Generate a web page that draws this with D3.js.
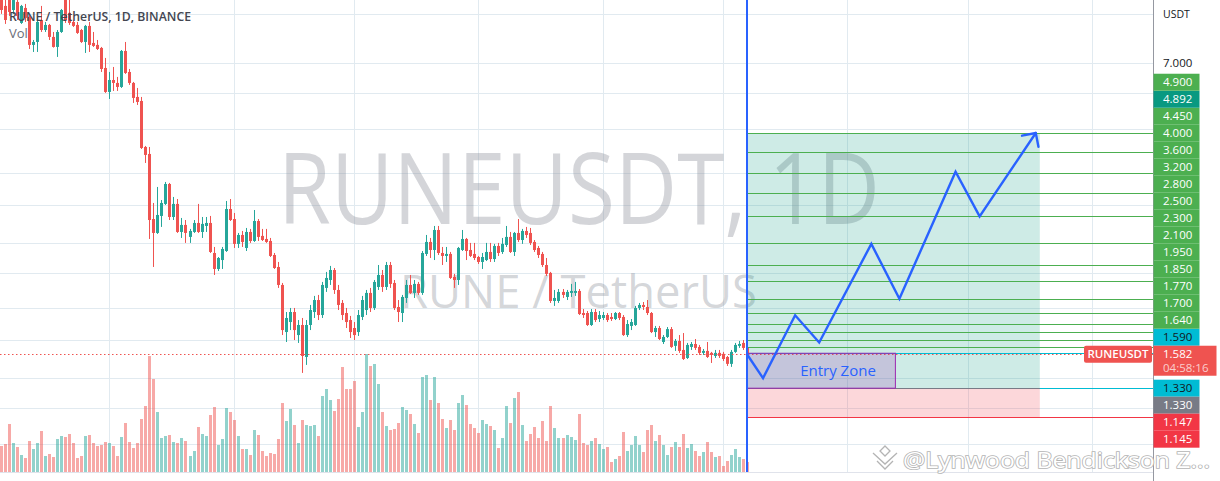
<!DOCTYPE html>
<html><head><meta charset="utf-8">
<script src="https://cdn.jsdelivr.net/npm/d3@7"></script>
<style>html,body{margin:0;padding:0;background:#fff;overflow:hidden}svg{display:block}</style>
</head><body><svg id="c" width="1220" height="481"></svg>
<script>
// ---------- DATA ----------
const startDate = "2022-04-04"; // first daily candle, consecutive days
const opens = [9.668,9.379,9.668,9.187,9.572,8.598,9.283,8.866,7.685,7.802,
8.729,8.294,8.511,8.005,7.606,8.211,9.668,9.050,8.642,8.511,
8.294,7.802,8.468,7.763,7.685,7.567,6.831,6.043,6.424,6.328,
6.200,7.451,6.693,6.328,5.891,5.771,4.562,4.402,3.157,2.940,
3.207,3.410,3.776,3.190,3.410,2.955,3.063,2.881,2.955,3.094,
2.955,3.047,3.094,2.654,2.446,2.560,2.681,3.323,3.157,2.780,
2.910,2.723,2.955,2.822,3.125,2.896,2.851,2.822,2.627,2.471,
2.254,1.772,1.865,1.963,1.745,1.837,1.560,1.837,1.963,2.087,
1.933,2.220,2.312,2.433,2.197,2.056,1.953,1.884,1.809,1.772,
1.914,1.983,2.164,2.004,2.231,2.372,2.231,2.496,2.277,2.014,
1.953,2.109,2.254,2.164,2.266,2.164,2.641,2.808,2.695,2.985,
2.654,2.614,2.641,2.348,2.312,2.695,2.851,2.695,2.641,2.600,
2.535,2.560,2.668,2.573,2.751,2.668,2.765,2.881,2.668,2.940,
2.836,2.970,2.940,2.808,2.723,2.641,2.496,2.397,2.077,2.077,
2.175,2.120,2.164,2.164,2.186,1.953,1.953,1.837,1.963,1.894,
1.904,1.933,1.914,1.894,1.953,1.914,1.745,1.828,1.837,2.004,
2.035,2.014,1.953,1.772,1.809,1.684,1.728,1.799,1.651,1.693,
1.617,1.552,1.642,1.667,1.642,1.593,1.609,1.593,1.568,1.593,
1.585,1.560,1.506,1.601,1.651,1.676,1.634];
const highs = [10.074,9.668,9.921,9.871,9.769,9.428,9.476,8.958,7.881,8.866,
9.379,8.642,8.555,8.211,8.294,9.235,9.921,9.668,8.729,8.642,
8.338,8.511,8.642,8.211,7.881,7.606,7.190,6.693,6.866,6.525,
7.488,7.802,6.795,6.360,6.168,5.891,4.586,4.562,3.427,3.719,
3.479,3.815,3.796,3.534,3.497,3.174,3.141,3.001,3.141,3.410,
3.190,3.190,3.207,2.737,2.600,2.737,3.462,3.497,3.256,2.940,
2.970,3.016,3.001,3.306,3.157,3.001,3.001,2.866,2.654,2.535,
2.277,1.963,2.004,2.004,1.884,1.904,1.884,2.035,2.131,2.142,
2.289,2.409,2.484,2.458,2.254,2.087,2.004,1.924,1.865,1.983,
2.131,2.197,2.220,2.312,2.496,2.433,2.535,2.535,2.312,2.087,
2.142,2.312,2.372,2.312,2.289,2.681,2.910,2.866,3.047,3.047,
2.737,2.737,2.668,2.385,2.737,2.985,2.866,2.794,2.794,2.614,
2.654,2.794,2.794,2.780,2.794,2.866,3.047,2.955,2.955,3.157,
3.001,3.032,3.016,2.836,2.751,2.668,2.587,2.409,2.197,2.208,
2.208,2.197,2.266,2.289,2.208,1.993,1.973,1.993,1.993,1.973,
1.963,1.953,1.953,1.963,1.963,1.933,1.884,1.894,2.025,2.056,
2.066,2.087,1.963,1.828,1.828,1.745,1.818,1.818,1.710,1.745,
1.763,1.676,1.684,1.710,1.659,1.625,1.684,1.601,1.617,1.617,
1.601,1.568,1.617,1.676,1.693,1.701,1.659];
const lows = [9.004,8.555,8.912,9.004,8.729,8.555,8.642,7.527,7.413,7.413,
8.211,8.211,7.881,7.580,7.227,8.170,8.598,8.511,8.424,8.129,
7.763,7.376,7.413,7.606,7.488,6.693,6.013,5.830,6.074,6.074,
6.168,6.626,6.264,5.713,5.655,4.515,4.204,2.851,2.471,2.925,
3.032,3.392,3.141,3.141,2.940,2.866,2.794,2.794,2.940,2.940,
2.866,2.955,2.654,2.372,2.421,2.446,2.668,3.125,2.723,2.723,
2.737,2.681,2.794,2.808,2.822,2.822,2.794,2.600,2.446,2.220,
1.745,1.684,1.790,1.701,1.676,1.438,1.498,1.790,1.904,1.884,
1.904,2.175,2.254,2.153,1.983,1.884,1.809,1.719,1.701,1.737,
1.884,1.933,1.963,1.983,2.197,2.175,2.197,2.220,1.983,1.865,
1.865,2.056,2.153,2.109,2.142,2.142,2.614,2.587,2.560,2.627,
2.496,2.535,2.324,2.220,2.254,2.681,2.560,2.600,2.560,2.509,
2.446,2.547,2.535,2.535,2.614,2.641,2.737,2.654,2.614,2.808,
2.780,2.866,2.765,2.668,2.587,2.471,2.360,2.056,2.025,2.056,
2.109,2.087,2.120,2.131,1.933,1.904,1.828,1.828,1.865,1.865,
1.884,1.865,1.875,1.884,1.884,1.737,1.728,1.790,1.828,1.983,
1.983,1.933,1.763,1.728,1.701,1.667,1.719,1.634,1.609,1.593,
1.536,1.544,1.617,1.617,1.576,1.576,1.552,1.513,1.552,1.552,
1.528,1.490,1.483,1.593,1.634,1.617,1.568];
const closes = [9.187,8.729,9.095,9.668,8.912,9.379,8.821,7.685,7.802,8.642,
8.294,8.511,8.005,7.606,8.211,9.187,8.729,8.598,8.468,8.170,
7.802,8.468,7.685,7.645,7.527,6.795,6.043,6.424,6.328,6.200,
7.451,6.659,6.328,5.861,5.742,4.539,4.380,3.141,2.940,3.223,
3.427,3.776,3.190,3.410,2.955,3.063,2.940,2.970,3.094,2.955,
3.079,3.094,2.668,2.446,2.587,2.709,3.323,3.141,2.780,2.910,
2.808,2.955,2.822,3.125,2.881,2.836,2.808,2.614,2.458,2.254,
1.790,1.904,1.963,1.790,1.837,1.568,1.837,1.983,2.087,1.933,
2.254,2.336,2.433,2.197,2.035,1.933,1.865,1.772,1.745,1.933,
2.087,2.164,2.004,2.289,2.372,2.231,2.496,2.266,2.004,1.963,
2.120,2.254,2.164,2.266,2.164,2.654,2.808,2.695,2.985,2.654,
2.614,2.641,2.336,2.312,2.723,2.851,2.681,2.614,2.587,2.535,
2.600,2.668,2.573,2.751,2.654,2.780,2.881,2.668,2.940,2.836,
2.970,2.910,2.794,2.695,2.627,2.496,2.385,2.077,2.109,2.175,
2.142,2.175,2.186,2.186,1.943,1.933,1.837,1.963,1.884,1.933,
1.933,1.884,1.894,1.953,1.904,1.745,1.846,1.865,2.004,2.035,
2.014,1.953,1.772,1.809,1.710,1.728,1.799,1.642,1.693,1.609,
1.544,1.659,1.667,1.634,1.593,1.609,1.560,1.576,1.593,1.568,
1.544,1.506,1.601,1.659,1.667,1.634,1.582];
const volumes = [2.6,2.8,4.8,2.9,2.5,1.7,1.4,3.1,2.3,2.9,
4.1,1.6,1.8,1.5,3.3,3.6,3.5,3.8,2.9,1.4,
1.6,3.6,3.7,2.9,2.6,2.7,3.0,2.9,2.6,1.6,
3.5,4.9,3.0,2.4,2.9,5.3,6.6,11.6,9.3,6.0,
3.4,3.6,3.7,3.0,2.9,3.4,3.1,1.6,2.1,4.5,
3.8,3.6,5.7,6.5,2.7,3.3,6.4,6.0,5.2,3.6,
2.3,2.3,1.7,4.2,3.7,2.1,1.6,1.9,1.8,3.3,
6.9,5.1,6.3,4.7,2.9,5.2,4.7,4.6,4.7,3.6,
7.6,8.3,7.2,6.1,7.3,10.5,8.3,8.3,9.1,4.5,
6.0,11.8,10.6,10.8,8.8,6.0,4.6,4.2,4.3,4.9,
6.5,6.2,5.8,4.8,3.9,9.5,9.7,7.2,9.5,6.9,
5.3,4.4,5.2,4.2,6.9,7.7,6.7,4.8,4.4,3.9,
5.2,4.8,4.6,4.2,2.4,3.4,6.6,4.9,7.4,8.0,
4.7,3.1,3.8,4.5,3.4,5.1,3.1,6.6,4.4,3.4,
3.4,3.7,3.5,3.2,5.8,2.9,2.7,3.1,3.4,2.8,
2.3,2.5,1.0,1.3,1.6,4.0,2.1,2.7,3.6,2.7,
2.0,4.2,4.7,3.1,3.7,2.7,1.7,2.5,3.0,2.5,
3.8,2.4,2.8,2.1,1.6,2.0,3.0,2.0,1.5,1.6,
0.6,1.1,1.7,2.3,1.5,1.3,1.0];

const priceTicks = [1.0,1.2,1.4,1.7,2.0,2.4,2.8,3.4,4.0,5.0,6.0,7.0,9.0];
const targetLevels = [1.64,1.70,1.77,1.85,1.95,2.1,2.3,2.5,2.8,3.2,3.6,4.0,4.45,4.9];
const entryZoneTop = 1.59;
const entryLevel = 1.33;
const stopLevel = 1.147;
const posEntry = 1.33, posTarget = 4.892, posStop = 1.145;
const posStart = "2022-10-07", posEnd = "2022-12-19", zoneEnd = "2022-11-13";
const countdown = "04:58:16";
const pathDates = ["2022-10-07","2022-10-11","2022-10-19","2022-10-25","2022-11-07","2022-11-14","2022-11-28","2022-12-04","2022-12-18"];
const pathPrices = [1.582,1.40,1.93,1.68,2.78,2.10,4.02,3.20,4.90];
const symbolTitle = "RUNE / TetherUS, 1D, BINANCE";
const watermark1 = "RUNEUSDT, 1D", watermark2 = "RUNE / TetherUS";
const author = "@Lynwood Bendickson Z...";

// ---------- LAYOUT ----------
const W = 1220, H = 481, plotRight = 1153, plotBottom = 472;
const font = "'Open Sans','Noto Sans',sans-serif";
const UP = "#26a69a", DN = "#ef5350";
const svg = d3.select("#c");
const parse = d3.utcParse("%Y-%m-%d");
const t0 = parse(startDate);
const dates = opens.map((_, i) => d3.utcDay.offset(t0, i));
const x = d3.scaleUtc().domain([t0, dates[dates.length - 1]]).range([1, 747]);
const y = d3.scaleLog().domain([1, 9]).range([444, 14]);
const yv = d3.scaleLinear().domain([0, 12]).range([plotBottom, 352]);
const snap = v => Math.round(v) + 0.5;

svg.append("rect").attr("width", W).attr("height", H).attr("fill", "#fff");
svg.append("defs").append("clipPath").attr("id", "plot").append("rect")
  .attr("width", plotRight).attr("height", plotBottom);
const plot = svg.append("g").attr("clip-path", "url(#plot)");

// grid
const grid = plot.append("g").attr("stroke", "#e1eaf0").attr("stroke-width", 1);
priceTicks.forEach(p => grid.append("line").attr("x1", 0).attr("x2", plotRight)
  .attr("y1", snap(y(p))).attr("y2", snap(y(p))));
d3.utcMonth.range(d3.utcMonth.ceil(t0), d3.utcDay.offset(t0, 320)).forEach(m => {
  const xm = x(m);
  if (xm < plotRight) grid.append("line").attr("x1", snap(xm)).attr("x2", snap(xm)).attr("y1", 0).attr("y2", plotBottom);
});

// watermarks
const wmColor = "rgba(135,139,150,0.36)";
plot.append("text").attr("x", 579).attr("y", 224).attr("text-anchor", "middle")
  .attr("font-family", font).attr("font-size", 98).attr("fill", wmColor)
  .attr("textLength", 602).attr("lengthAdjust", "spacingAndGlyphs").text(watermark1);
plot.append("text").attr("x", 578.5).attr("y", 307.7).attr("text-anchor", "middle")
  .attr("font-family", font).attr("font-size", 46).attr("fill", wmColor)
  .attr("textLength", 357).attr("lengthAdjust", "spacingAndGlyphs").text(watermark2);

// volume
plot.append("g").selectAll("rect").data(volumes).join("rect")
  .attr("x", (d, i) => Math.round(x(dates[i])) - 1).attr("width", 3)
  .attr("y", d => yv(d)).attr("height", d => plotBottom - yv(d))
  .attr("fill", (d, i) => closes[i] >= opens[i] ? "rgba(38,166,154,0.5)" : "rgba(239,83,80,0.5)");

// position tool boxes
const xs = x(parse(posStart)), xe = x(parse(posEnd)), xz = x(parse(zoneEnd));
plot.append("rect").attr("x", xs).attr("width", xe - xs).attr("y", y(posTarget)).attr("height", y(posEntry) - y(posTarget))
  .attr("fill", "rgba(8,153,129,0.2)");
plot.append("rect").attr("x", xs).attr("width", xe - xs).attr("y", y(posEntry)).attr("height", y(posStop) - y(posEntry))
  .attr("fill", "rgba(242,54,69,0.2)");

// candles
const cg = plot.append("g");
dates.forEach((d, i) => {
  const xc = Math.round(x(d));
  const col = closes[i] >= opens[i] ? UP : DN;
  cg.append("line").attr("x1", xc + 0.5).attr("x2", xc + 0.5).attr("y1", y(highs[i])).attr("y2", y(lows[i]))
    .attr("stroke", col).attr("stroke-width", 1);
  const top = y(Math.max(opens[i], closes[i])), bot = y(Math.min(opens[i], closes[i]));
  cg.append("rect").attr("x", xc - 1).attr("width", 3).attr("y", top).attr("height", Math.max(1, bot - top)).attr("fill", col);
});

// horizontal levels
const lv = plot.append("g");
targetLevels.forEach(p => lv.append("line").attr("x1", xs).attr("x2", plotRight)
  .attr("y1", snap(y(p))).attr("y2", snap(y(p))).attr("stroke", "#4caf50"));
lv.append("line").attr("x1", xs).attr("x2", plotRight).attr("y1", snap(y(entryZoneTop))).attr("y2", snap(y(entryZoneTop))).attr("stroke", "#00bcd4");
lv.append("line").attr("x1", xs).attr("x2", plotRight).attr("y1", snap(y(entryLevel))).attr("y2", snap(y(entryLevel))).attr("stroke", "#00bcd4");
lv.append("line").attr("x1", xs).attr("x2", xe).attr("y1", snap(y(posEntry))).attr("y2", snap(y(posEntry))).attr("stroke", "#787b86");
lv.append("line").attr("x1", xs).attr("x2", plotRight).attr("y1", snap(y(stopLevel))).attr("y2", snap(y(stopLevel))).attr("stroke", "#f23645");

// last price dotted
const lastPrice = closes[closes.length - 1];
plot.append("line").attr("x1", 0).attr("x2", plotRight).attr("y1", snap(y(lastPrice))).attr("y2", snap(y(lastPrice)))
  .attr("stroke", DN).attr("stroke-dasharray", "1.5,2.5");

// entry zone
plot.append("rect").attr("x", xs).attr("width", xz - xs).attr("y", y(entryZoneTop)).attr("height", y(entryLevel) - y(entryZoneTop))
  .attr("fill", "rgba(156,39,176,0.19)").attr("stroke", "#9c27b0").attr("stroke-width", 1);
plot.append("text").attr("x", 838).attr("y", (y(entryZoneTop) + y(entryLevel)) / 2).attr("dy", "0.36em")
  .attr("text-anchor", "middle").attr("font-family", font).attr("font-size", 15).attr("fill", "#2962ff").text("Entry Zone");

// projected path
const pts = pathDates.map((d, i) => [x(parse(d)), y(pathPrices[i])]);
plot.append("path").attr("d", d3.line()(pts)).attr("fill", "none").attr("stroke", "#2962ff")
  .attr("stroke-width", 2.4).attr("stroke-linejoin", "miter");
const [ax, ay] = pts[pts.length - 1], [bx, by] = pts[pts.length - 2];
const ang = Math.atan2(ay - by, ax - bx);
[Math.PI * 0.75, -Math.PI * 0.75].forEach(a => {
  plot.append("line").attr("x1", ax).attr("y1", ay)
    .attr("x2", ax + 14 * Math.cos(ang + a)).attr("y2", ay + 14 * Math.sin(ang + a))
    .attr("stroke", "#2962ff").attr("stroke-width", 2.4).attr("stroke-linecap", "round");
});

// vertical blue line
svg.append("line").attr("x1", Math.round(xs)).attr("x2", Math.round(xs)).attr("y1", 0).attr("y2", plotBottom)
  .attr("stroke", "#2962ff").attr("stroke-width", 2);

// bottom axis line & price-axis border
svg.append("line").attr("x1", 0).attr("x2", plotRight).attr("y1", plotBottom + 0.5).attr("y2", plotBottom + 0.5).attr("stroke", "#e0e3eb");
svg.append("line").attr("x1", plotRight + 0.5).attr("x2", plotRight + 0.5).attr("y1", 0).attr("y2", H).attr("stroke", "#9598a1");

// colored price labels, stacked away from the last price label
const lbH = 17, lbW = 46, lbFont = 11.5;
const yl = y(lastPrice);
const lastTop = yl - 8.5, lastBot = lastTop + 30;
const upper = [{v: entryZoneTop, bg: "#00bcd4", fg: "#131722"}]
  .concat(targetLevels.map(v => ({v, bg: "#4caf50", fg: "#fff"})))
  .concat([{v: posTarget, bg: "#089981", fg: "#fff"}])
  .sort((a, b) => a.v - b.v);
const lower = [{v: entryLevel, bg: "#00bcd4", fg: "#131722"}, {v: posEntry, bg: "#787b86", fg: "#fff"},
  {v: stopLevel, bg: "#f23645", fg: "#fff"}, {v: posStop, bg: "#f23645", fg: "#fff"}];
let prevTop = lastTop;
upper.forEach(l => { l.c = Math.min(y(l.v), prevTop - lbH / 2); prevTop = l.c - lbH / 2; });
let prevBot = lastBot;
lower.forEach(l => { l.c = Math.max(y(l.v), prevBot + lbH / 2); prevBot = l.c + lbH / 2; });

// occupied label bands (to keep axis tick texts from hiding under them)
const bands = upper.concat(lower).map(l => [l.c - lbH / 2, l.c + lbH / 2]).concat([[lastTop, lastBot], [0, 24]]);
const free = yy => bands.every(([a, b]) => yy + 6 < a || yy - 6 > b);

// tick labels
const ax1 = svg.append("g").attr("font-family", font).attr("font-size", lbFont);
priceTicks.filter(p => free(y(p))).forEach(p => ax1.append("text").attr("x", plotRight + 10).attr("y", y(p)).attr("dy", "0.36em")
  .attr("fill", "#131722").text(d3.format(".3f")(p)));
ax1.append("text").attr("x", plotRight + 10).attr("y", 14).attr("dy", "0.36em").attr("font-size", 10.5)
  .attr("fill", "#131722").text("USDT");

const lg = svg.append("g").attr("font-family", font).attr("font-size", lbFont);
upper.concat(lower).forEach(l => {
  lg.append("rect").attr("x", plotRight + 0.5).attr("y", l.c - lbH / 2).attr("width", lbW).attr("height", lbH).attr("fill", l.bg);
  lg.append("text").attr("x", plotRight + 10).attr("y", l.c).attr("dy", "0.36em").attr("fill", l.fg).text(d3.format(".3f")(l.v));
});
// last price label
lg.append("rect").attr("x", plotRight + 0.5).attr("y", lastTop).attr("width", 63).attr("height", 30).attr("fill", DN);
lg.append("text").attr("x", plotRight + 10).attr("y", yl).attr("dy", "0.36em").attr("fill", "#fff").text(d3.format(".3f")(lastPrice));
lg.append("text").attr("x", plotRight + 10).attr("y", yl + 13.5).attr("dy", "0.36em").attr("fill", "rgba(255,255,255,0.72)").text(countdown);
lg.append("rect").attr("x", 1084).attr("y", yl - 8.5).attr("width", 68).attr("height", 17).attr("rx", 2).attr("fill", DN);
lg.append("text").attr("x", 1118).attr("y", yl).attr("dy", "0.36em").attr("text-anchor", "middle").attr("fill", "#fff")
  .attr("font-weight", 600).text("RUNEUSDT");

// legend
svg.append("text").attr("x", 9).attr("y", 21).attr("font-family", font).attr("font-size", 13).attr("font-weight", 600)
  .attr("fill", "#434651").attr("textLength", 182).attr("lengthAdjust", "spacingAndGlyphs").text(symbolTitle);
svg.append("text").attr("x", 9).attr("y", 37.5).attr("font-family", font).attr("font-size", 13)
  .attr("fill", "#6a6d78").text("Vol");

// author watermark
const wm = svg.append("g").attr("fill", "none").attr("stroke", "#b4b4b4").attr("stroke-width", 1.3);
wm.append("path").attr("d", "M885,446 l5,5 l-5,5 l-5,-5 z");
wm.append("path").attr("d", "M873,453 l12,11 l12,-11");
wm.append("path").attr("d", "M877,461 l8,8 l8,-8");
svg.append("text").attr("x", 903).attr("y", 468).attr("font-family", font).attr("font-size", 22)
  .attr("fill", "#fff").attr("stroke", "#b4b4b4").attr("stroke-width", 1.6).attr("paint-order", "stroke fill")
  .attr("textLength", 307).attr("lengthAdjust", "spacingAndGlyphs").text(author);
</script></body></html>
